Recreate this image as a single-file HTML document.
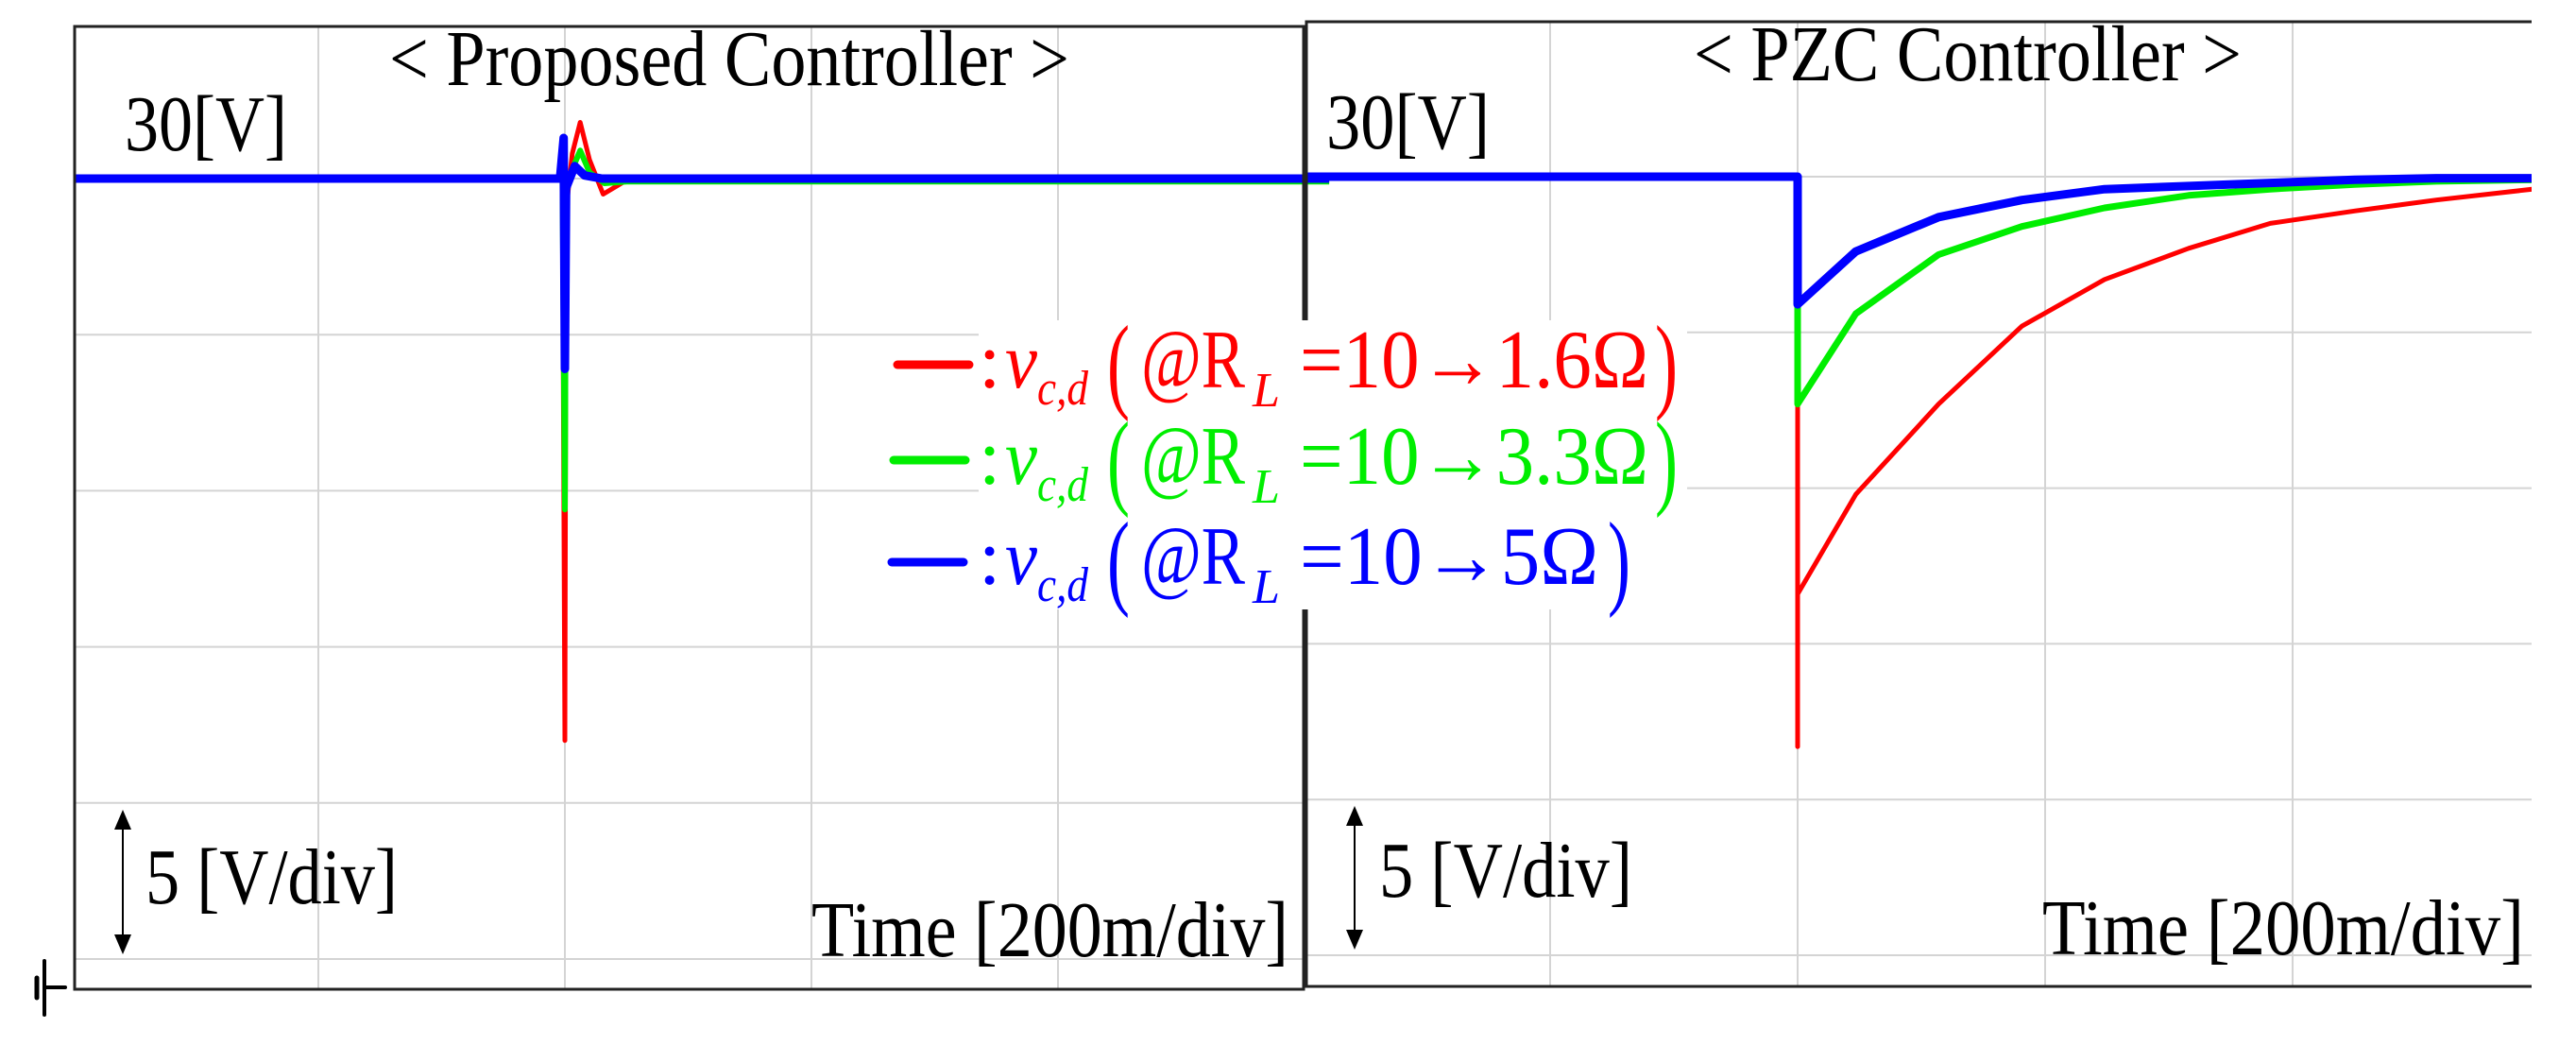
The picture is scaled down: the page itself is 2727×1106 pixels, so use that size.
<!DOCTYPE html>
<html><head><meta charset="utf-8"><style>
html,body{margin:0;padding:0;background:#fff;}
svg{display:block;}
text{font-family:"Liberation Serif",serif;}
</style></head><body>
<svg id="chart" width="2727" height="1106" viewBox="0 0 2727 1106" xmlns="http://www.w3.org/2000/svg">
<defs>
<clipPath id="clipL"><rect x="79" y="28" width="1330" height="1019"/></clipPath>
<clipPath id="clipR"><rect x="1383" y="23" width="1297" height="1021"/></clipPath>
</defs>
<g id="gridL"></g>
<g id="gridR"></g>
<g id="tracesL" clip-path="url(#clipL)"></g>
<g id="tracesR" clip-path="url(#clipR)"></g>

<rect x="79" y="28" width="1301" height="1019" fill="none" stroke="#222" stroke-width="3"/>
<polyline points="2680,23 1383,23 1383,1044 2680,1044" fill="none" stroke="#222" stroke-width="3"/>

<g stroke="#000" stroke-linecap="round">
<line x1="39" y1="1035" x2="39" y2="1056" stroke-width="5"/>
<line x1="47" y1="1017" x2="47" y2="1074" stroke-width="4"/>
<line x1="47" y1="1045" x2="69" y2="1045" stroke-width="4"/>
</g>

<text x="412" y="90" font-size="84" textLength="720" lengthAdjust="spacingAndGlyphs">&lt; Proposed Controller &gt;</text>
<text x="132" y="159" font-size="84" textLength="172" lengthAdjust="spacingAndGlyphs">30[V]</text>
<text x="154" y="956" font-size="84" textLength="267" lengthAdjust="spacingAndGlyphs">5 [V/div]</text>
<text x="859" y="1012" font-size="84" textLength="505" lengthAdjust="spacingAndGlyphs">Time [200m/div]</text>
<g fill="#000" stroke="#000">
<line x1="130" y1="870" x2="130" y2="998" stroke-width="2"/>
<polygon points="130,857 121,878 139,878" stroke="none"/>
<polygon points="130,1010 121,989 139,989" stroke="none"/>
</g>

<text x="1793" y="85" font-size="84" textLength="580" lengthAdjust="spacingAndGlyphs">&lt; PZC Controller &gt;</text>
<text x="1404" y="157" font-size="84" textLength="173" lengthAdjust="spacingAndGlyphs">30[V]</text>
<text x="1460" y="949" font-size="84" textLength="268" lengthAdjust="spacingAndGlyphs">5 [V/div]</text>
<text x="2162" y="1010" font-size="84" textLength="510" lengthAdjust="spacingAndGlyphs">Time [200m/div]</text>
<g fill="#000" stroke="#000">
<line x1="1434" y1="866" x2="1434" y2="993" stroke-width="2"/>
<polygon points="1434,853 1425,874 1443,874" stroke="none"/>
<polygon points="1434,1005 1425,984 1443,984" stroke="none"/>
</g>

<g>
<rect x="1036" y="339" width="750" height="306" fill="#fff"/>
<g fill="#f00">
<line x1="950" y1="386" x2="1026" y2="386" stroke="#f00" stroke-width="9" stroke-linecap="round"/>
<text x="1036" y="410" font-size="84">:</text>
<text x="1064" y="410" font-size="84" font-style="italic" textLength="34" lengthAdjust="spacingAndGlyphs">v</text>
<text x="1098" y="428" font-size="52" font-style="italic" textLength="54" lengthAdjust="spacingAndGlyphs">c,d</text>
<text x="1172" y="422" font-size="112" textLength="24" lengthAdjust="spacingAndGlyphs">(</text>
<text x="1208" y="410" font-size="88" textLength="110" lengthAdjust="spacingAndGlyphs">@R</text>
<text x="1326" y="430" font-size="52" font-style="italic">L</text>
<text x="1376" y="410" font-size="88" textLength="369" lengthAdjust="spacingAndGlyphs">=10→1.6Ω</text>
<text x="1752" y="422" font-size="112" textLength="24" lengthAdjust="spacingAndGlyphs">)</text>
</g>
<g fill="#0e0">
<line x1="946" y1="487" x2="1022" y2="487" stroke="#0e0" stroke-width="9" stroke-linecap="round"/>
<text x="1036" y="512" font-size="84">:</text>
<text x="1064" y="512" font-size="84" font-style="italic" textLength="34" lengthAdjust="spacingAndGlyphs">v</text>
<text x="1098" y="530" font-size="52" font-style="italic" textLength="54" lengthAdjust="spacingAndGlyphs">c,d</text>
<text x="1172" y="524" font-size="112" textLength="24" lengthAdjust="spacingAndGlyphs">(</text>
<text x="1208" y="512" font-size="88" textLength="110" lengthAdjust="spacingAndGlyphs">@R</text>
<text x="1326" y="532" font-size="52" font-style="italic">L</text>
<text x="1376" y="512" font-size="88" textLength="369" lengthAdjust="spacingAndGlyphs">=10→3.3Ω</text>
<text x="1752" y="524" font-size="112" textLength="24" lengthAdjust="spacingAndGlyphs">)</text>
</g>
<g fill="#00f">
<line x1="944" y1="595" x2="1020" y2="595" stroke="#00f" stroke-width="9" stroke-linecap="round"/>
<text x="1036" y="618" font-size="84">:</text>
<text x="1064" y="618" font-size="84" font-style="italic" textLength="34" lengthAdjust="spacingAndGlyphs">v</text>
<text x="1098" y="636" font-size="52" font-style="italic" textLength="54" lengthAdjust="spacingAndGlyphs">c,d</text>
<text x="1172" y="630" font-size="112" textLength="24" lengthAdjust="spacingAndGlyphs">(</text>
<text x="1208" y="618" font-size="88" textLength="110" lengthAdjust="spacingAndGlyphs">@R</text>
<text x="1326" y="638" font-size="52" font-style="italic">L</text>
<text x="1376" y="618" font-size="88" textLength="316" lengthAdjust="spacingAndGlyphs">=10→5Ω</text>
<text x="1702" y="630" font-size="112" textLength="24" lengthAdjust="spacingAndGlyphs">)</text>
</g>
</g>
</svg>
<script>
const leftRedT   = [-2.05, -0.01, 0, 0.005, 0.03, 0.062, 0.1, 0.155, 0.25, 3.1];
const leftRedV   = [30, 30, 12.0, 29.0, 30.8, 31.8, 30.6, 29.5, 29.95, 30];
const leftGreenT = [-2.05, -0.01, 0, 0.005, 0.03, 0.062, 0.1, 0.16, 0.25, 3.1];
const leftGreenV = [30, 30, 19.4, 29.5, 30.3, 30.9, 30.2, 29.85, 29.9, 29.9];
const leftBlueT  = [-2.05, -0.02, -0.005, 0, 0.005, 0.04, 0.08, 0.15, 3.1];
const leftBlueV  = [30, 30, 31.3, 23.9, 29.7, 30.4, 30.1, 30, 30];

const rightRedT   = [-2.0, 0, 0, 0, 0.235, 0.57, 0.906, 1.24, 1.58, 1.91, 2.25, 2.58, 2.97];
const rightRedV   = [30, 30, 11.7, 16.6, 19.8, 22.7, 25.2, 26.7, 27.7, 28.5, 28.9, 29.25, 29.6];
const rightGreenT = [-2.0, 0, 0, 0.235, 0.57, 0.906, 1.24, 1.58, 1.91, 2.25, 2.58, 2.97];
const rightGreenV = [30, 30, 22.7, 25.6, 27.5, 28.4, 29.0, 29.4, 29.6, 29.75, 29.85, 29.9];
const rightBlueT  = [-2.0, 0, 0, 0.235, 0.57, 0.906, 1.24, 1.58, 1.91, 2.25, 2.58, 2.97];
const rightBlueV  = [30, 30, 25.9, 27.6, 28.7, 29.25, 29.6, 29.7, 29.8, 29.9, 29.95, 29.95];

const gridDivsX = [-2, -1, 0, 1, 2];
const gridVoltsY = [30, 25, 20, 15, 10, 5];

const xL = t => 598 + t * 261;
const yL = v => 189 + (30 - v) * 165.2 / 5;
const xR = t => 1903 + t * 262;
const yR = v => 187 + (30 - v) * 164.8 / 5;

const NS = 'http://www.w3.org/2000/svg';
function mk(tag, attrs, parent) {
  const el = document.createElementNS(NS, tag);
  for (const k in attrs) el.setAttribute(k, attrs[k]);
  parent.appendChild(el);
  return el;
}

const gL = document.getElementById('gridL');
const gR = document.getElementById('gridR');
gridDivsX.forEach(d => {
  if (d === -2) return;
  const a = mk('line', {x1: xL(d), x2: xL(d), y1: 28, y2: 1047, stroke: '#d4d4d4', 'stroke-width': 2}, gL);
  
  
  const b = mk('line', {x1: xR(d), x2: xR(d), y1: 23, y2: 1044, stroke: '#d4d4d4', 'stroke-width': 2}, gR);
  
  
});
gridVoltsY.forEach(v => {
  const a = mk('line', {x1: 79, x2: 1380, y1: yL(v), y2: yL(v), stroke: '#d4d4d4', 'stroke-width': 2}, gL);
  
  
  const b = mk('line', {x1: 1383, x2: 2680, y1: yR(v), y2: yR(v), stroke: '#d4d4d4', 'stroke-width': 2}, gR);
  
  
});

function trace(parent, T, V, fx, fy, color, w, name) {
  const pts = T.map((t, i) => fx(t).toFixed(1) + ',' + fy(V[i]).toFixed(1)).join(' ');
  const p = mk('polyline', {points: pts, fill: 'none', stroke: color, 'stroke-width': w, 'stroke-linejoin': 'round'}, parent);
  
  
}
const tL = document.getElementById('tracesL');
const tR = document.getElementById('tracesR');
trace(tL, leftRedT, leftRedV, xL, yL, '#f00', 5, 'left-trace-1p6-ohm');
trace(tL, leftGreenT, leftGreenV, xL, yL, '#0e0', 6, 'left-trace-3p3-ohm');
trace(tL, leftBlueT, leftBlueV, xL, yL, '#00f', 9, 'left-trace-5-ohm');
trace(tR, rightRedT, rightRedV, xR, yR, '#f00', 5, 'right-trace-1p6-ohm');
trace(tR, rightGreenT, rightGreenV, xR, yR, '#0e0', 7, 'right-trace-3p3-ohm');
trace(tR, rightBlueT, rightBlueV, xR, yR, '#00f', 9, 'right-trace-5-ohm');
</script>
</body></html>
